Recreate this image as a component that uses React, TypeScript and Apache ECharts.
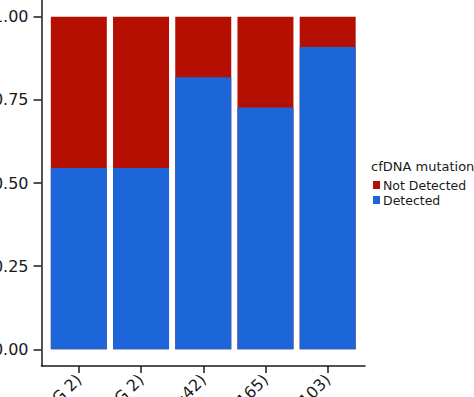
import React, { useEffect, useRef } from "react";
import * as echarts from "echarts";

const categories = ["Cohort A (G 2)", "Cohort B (G 2)", "Cohort C (n=42)", "Cohort D (n=165)", "Cohort E (n=103)"];
const positions = [1, 2, 3, 4, 5];
const detected = [0.545, 0.545, 0.818, 0.727, 0.909];
const notDetected = [0.455, 0.455, 0.182, 0.273, 0.091];
const yTicks = [0, 0.25, 0.5, 0.75, 1];
const legendTitle = "cfDNA mutation";

const RED = "#B50F02";
const BLUE = "#1D66DA";
const FONT = "DejaVu Sans";

export default function App() {
  const ref = useRef<HTMLDivElement>(null);
  useEffect(() => {
    if (!ref.current) return;
    const chart = echarts.init(ref.current, undefined, { renderer: "svg" });
    chart.setOption({
      animation: false,
      backgroundColor: "#ffffff",
      title: {
        text: legendTitle,
        left: 371,
        top: 160,
        padding: 0,
        textStyle: { fontFamily: FONT, fontSize: 13, fontWeight: "normal", color: "#1a1a1a" },
      },
      legend: {
        orient: "vertical",
        left: 373,
        top: 178,
        padding: 0,
        itemWidth: 7,
        itemHeight: 8,
        itemGap: 1,
        icon: "rect",
        data: [
          { name: "Not Detected", itemStyle: { color: RED } },
          { name: "Detected", itemStyle: { color: BLUE } },
        ],
        textStyle: { fontFamily: FONT, fontSize: 12.5, lineHeight: 14, color: "#1a1a1a", padding: [0, 0, 0, -2] },
      },
      grid: { left: 41.5, top: 0, width: 323.5, height: 366, containLabel: false, outerBoundsMode: "none" },
      xAxis: {
        type: "value",
        min: 0.4,
        max: 5.6,
        splitLine: { show: false },
        axisLine: { show: true, onZero: false, lineStyle: { color: "#1a1a1a", width: 1.5 } },
        axisTick: { show: true, length: 7, customValues: positions, lineStyle: { color: "#1a1a1a", width: 1.5 } },
        axisLabel: {
          customValues: positions,
          rotate: 45,
          margin: 11,
          fontFamily: FONT,
          fontSize: 16,
          color: "#1a1a1a",
          formatter: (v: number) => categories[Math.round(v) - 1] ?? "",
        },
      },
      yAxis: {
        type: "value",
        min: -0.05,
        max: 1.05,
        splitLine: { show: false },
        axisLine: { show: true, onZero: false, lineStyle: { color: "#1a1a1a", width: 1.5 } },
        axisTick: { show: true, length: 8, customValues: yTicks, lineStyle: { color: "#1a1a1a", width: 1.5 } },
        axisLabel: {
          customValues: yTicks,
          margin: 13,
          fontFamily: FONT,
          fontSize: 16,
          color: "#1a1a1a",
          formatter: (v: number) => v.toFixed(2),
        },
      },
      series: [
        {
          name: "Not Detected",
          type: "bar",
          barWidth: 56,
          barGap: "-100%",
          itemStyle: { color: RED },
          data: positions.map((p, i) => [p, detected[i] + notDetected[i]]),
        },
        {
          name: "Detected",
          type: "bar",
          barWidth: 56,
          barGap: "-100%",
          itemStyle: { color: BLUE },
          data: positions.map((p, i) => [p, detected[i]]),
        },
      ],
    });
    return () => chart.dispose();
  }, []);
  return <div ref={ref} style={{ position: "fixed", left: 0, top: 0, width: 474, height: 397 }} />;
}
